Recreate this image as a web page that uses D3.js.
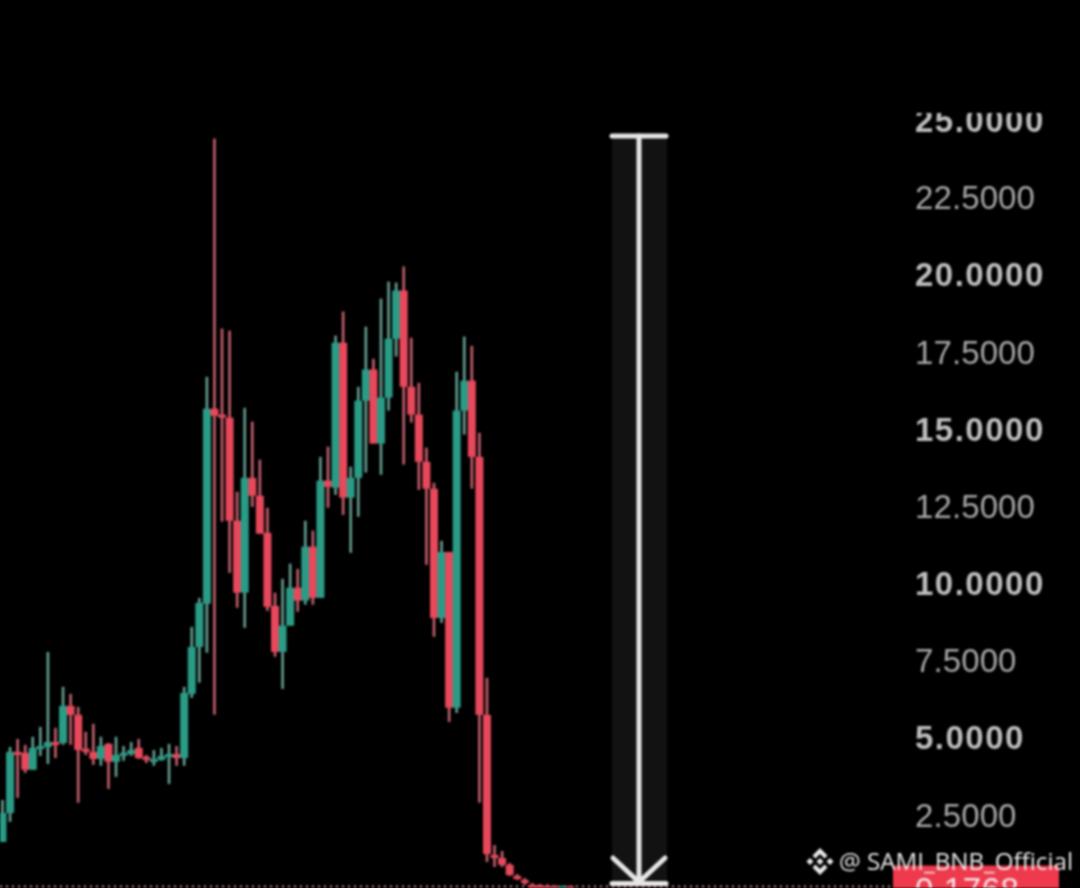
<!DOCTYPE html>
<html>
<head>
<meta charset="utf-8">
<script src="https://cdn.jsdelivr.net/npm/d3@7"></script>
<style>
  html, body { margin: 0; padding: 0; background: #000; overflow: hidden; }
  svg { display: block; filter: blur(0.8px); }
  text { font-family: "Liberation Sans", sans-serif; }
</style>
</head>
<body>
<svg width="1080" height="888"></svg>
<script>
const open = [1.62,2.56,4.54,4.51,3.96,4.67,4.70,4.86,4.83,6.03,5.74,4.64,4.54,4.31,4.80,4.22,4.44,4.47,4.67,4.38,4.25,4.28,4.44,4.47,4.34,6.42,7.94,9.34,15.66,15.47,15.37,12.03,9.70,13.42,12.84,11.64,9.27,7.78,8.63,9.86,9.44,11.19,9.53,13.33,13.10,17.80,12.78,13.42,15.92,16.93,14.53,16.02,17.93,19.49,16.37,15.47,13.94,13.07,8.88,11.02,5.97,15.60,16.57,14.10,5.74,1.20,1.10,0.88,0.52,0.39,0.23,0.22,0.20,0.19,0.18,0.19]
const close = [2.56,4.54,4.51,3.96,4.67,4.73,4.86,4.83,6.03,5.74,4.60,4.57,4.31,4.73,4.22,4.44,4.51,4.60,4.34,4.28,4.31,4.41,4.47,4.34,6.45,7.94,9.37,15.66,15.43,15.40,12.03,9.70,13.42,12.84,11.61,9.24,7.78,8.63,9.86,9.44,11.19,9.53,13.33,13.13,17.80,12.78,13.42,15.92,16.93,14.53,16.02,17.93,19.49,16.37,15.47,13.94,13.07,8.88,11.02,5.97,15.60,16.57,14.10,5.74,1.23,1.13,0.88,0.55,0.42,0.29,0.16,0.19,0.18,0.18,0.19,0.18]
const high = [2.98,4.70,4.96,4.77,5.03,5.35,7.78,5.32,6.65,6.42,6.00,5.19,5.45,5.03,4.83,5.03,4.73,4.86,4.96,4.44,4.60,4.67,4.80,4.73,6.65,8.59,9.53,16.70,24.42,18.26,18.19,12.97,15.69,15.24,14.01,12.45,9.70,10.15,10.64,10.47,12.03,11.71,14.10,14.43,18.03,18.81,13.78,16.37,18.32,17.28,19.23,19.78,19.75,20.27,17.96,16.50,14.40,13.26,11.38,11.02,16.86,18.00,17.70,14.88,6.94,1.52,1.33,0.94,0.58,0.45,0.29,0.26,0.25,0.22,0.20,0.20]
const low = [1.62,2.27,3.05,3.86,3.96,4.41,4.15,4.34,4.77,4.77,2.89,4.44,4.12,4.09,3.34,3.73,4.25,4.41,4.31,4.18,4.09,4.25,3.50,4.09,4.09,6.29,6.78,7.75,5.74,12.00,10.34,9.21,8.56,12.48,11.61,9.11,7.62,6.58,8.63,9.08,9.31,9.31,9.53,12.45,12.87,12.22,10.99,12.16,13.59,14.53,13.52,15.60,17.35,13.85,15.21,13.03,10.60,8.27,8.72,5.51,5.80,14.82,13.07,2.89,0.97,0.81,0.81,0.52,0.39,0.23,0.16,0.17,0.16,0.16,0.17,0.17]

const priceTicks = [2.5, 5, 7.5, 10, 12.5, 15, 17.5, 20, 22.5, 25]
const lastPrice = 0.1768

const upColor = '#2a9c86'
const downColor = '#e8485b'
const upWick = '#66a093'
const downWick = '#c4606e'

const svg = d3.select('svg')
const height = +svg.attr('height')
const width = +svg.attr('width')

const x = d3.scaleBand()
  .domain(d3.range(open.length))
  .range([-1.3, -1.3 + 7.57 * open.length])

const y = d3.scaleLinear()
  .domain([0, 25])
  .range([892, 120.5])

const candles = d3.range(open.length).map(i => ({
  i, open: open[i], close: close[i], high: high[i], low: low[i]
}))

svg.append('rect')
  .attr('width', width)
  .attr('height', height)
  .attr('fill', '#000')

// measuring band behind the arrow
svg.append('rect')
  .attr('x', 612)
  .attr('width', 55)
  .attr('y', y(24.5))
  .attr('height', height - y(24.5))
  .attr('fill', '#121212')

// last price line
svg.append('line')
  .attr('x1', 0)
  .attr('x2', 893)
  .attr('y1', y(lastPrice))
  .attr('y2', y(lastPrice))
  .attr('stroke', '#d0929a')
  .attr('stroke-width', 2)
  .attr('stroke-dasharray', '2 4')

const candle = svg.append('g').selectAll('g')
  .data(candles)
  .join('g')

candle.append('line')
  .attr('x1', d => x(d.i) + x.bandwidth() / 2)
  .attr('x2', d => x(d.i) + x.bandwidth() / 2)
  .attr('y1', d => y(d.high))
  .attr('y2', d => y(d.low))
  .attr('stroke', d => d.close >= d.open ? upWick : downWick)
  .attr('stroke-width', 2.6)

candle.append('rect')
  .attr('x', d => x(d.i) - 0.2)
  .attr('width', x.bandwidth() + 0.4)
  .attr('y', d => y(Math.max(d.open, d.close)))
  .attr('height', d => Math.max(3, Math.abs(y(d.open) - y(d.close))))
  .attr('fill', d => d.close >= d.open ? upColor : downColor)

// arrow
const arrow = svg.append('g')
  .attr('stroke', '#e6e6e6')
  .attr('stroke-linecap', 'round')
  .attr('fill', 'none')

arrow.append('line')
  .attr('x1', 639).attr('x2', 639)
  .attr('y1', y(24.5)).attr('y2', 883)
  .attr('stroke-width', 5)
arrow.append('line')
  .attr('x1', 612).attr('x2', 666)
  .attr('y1', y(24.5)).attr('y2', y(24.5))
  .attr('stroke-width', 5)
arrow.append('line')
  .attr('x1', 612).attr('x2', 666)
  .attr('y1', 883.5).attr('y2', 883.5)
  .attr('stroke-width', 5)
arrow.append('path')
  .attr('d', 'M613,858L639,882L665,858')
  .attr('stroke-width', 5)

// price axis
svg.append('clipPath').attr('id', 'axis-clip')
  .append('rect')
  .attr('x', 880)
  .attr('y', 113)
  .attr('width', 200)
  .attr('height', 775)

const axis = svg.append('g')
  .attr('clip-path', 'url(#axis-clip)')
  .append('g')
  .attr('transform', 'translate(915,0.6)')
  .call(d3.axisRight(y)
    .tickValues(priceTicks)
    .tickSize(0)
    .tickPadding(0)
    .tickFormat(d3.format('.4f')))

axis.select('.domain').remove()

axis.selectAll('text')
  .attr('font-family', '"Liberation Sans", sans-serif')
  .attr('font-size', 33)
  .attr('letter-spacing', 0.1)
  .attr('fill', '#a6a6a6')
  .filter(d => d % 5 === 0)
  .attr('font-weight', 'bold')
  .attr('fill', '#bdbdbd')
  .attr('letter-spacing', 1.5)

// last price label
svg.append('rect')
  .attr('x', 893)
  .attr('y', 865.5)
  .attr('width', 166)
  .attr('height', 26)
  .attr('rx', 2)
  .attr('fill', '#ef3a4e')

svg.append('text')
  .attr('x', 915)
  .attr('y', 900.5)
  .attr('font-size', 33)
  .attr('letter-spacing', 0.6)
  .attr('fill', '#f4dfe2')
  .text(d3.format('.4f')(lastPrice))

// watermark
const logo = svg.append('g')
  .attr('transform', 'translate(820,861.5)')
  .attr('fill', '#e8e8e8')

logo.append('path')
  .attr('d', 'M0,-13.5L7.5,-6L4.6,-3L0,-7.6L-4.6,-3L-7.5,-6Z')
logo.append('path')
  .attr('d', 'M0,13.5L7.5,6L4.6,3L0,7.6L-4.6,3L-7.5,6Z')
logo.append('path')
  .attr('d', 'M-13.5,0L-10,-3.5L-6.5,0L-10,3.5Z')
logo.append('path')
  .attr('d', 'M13.5,0L10,-3.5L6.5,0L10,3.5Z')
logo.append('path')
  .attr('d', 'M0,-3.5L3.5,0L0,3.5L-3.5,0Z')

svg.append('text')
  .attr('x', 839)
  .attr('y', 870)
  .style('font-family', '"Open Sans", sans-serif')
  .attr('font-size', 24.2)
  .attr('fill', '#e8e8e8')
  .text('@ SAMI_BNB_Official')
</script>
</body>
</html>
